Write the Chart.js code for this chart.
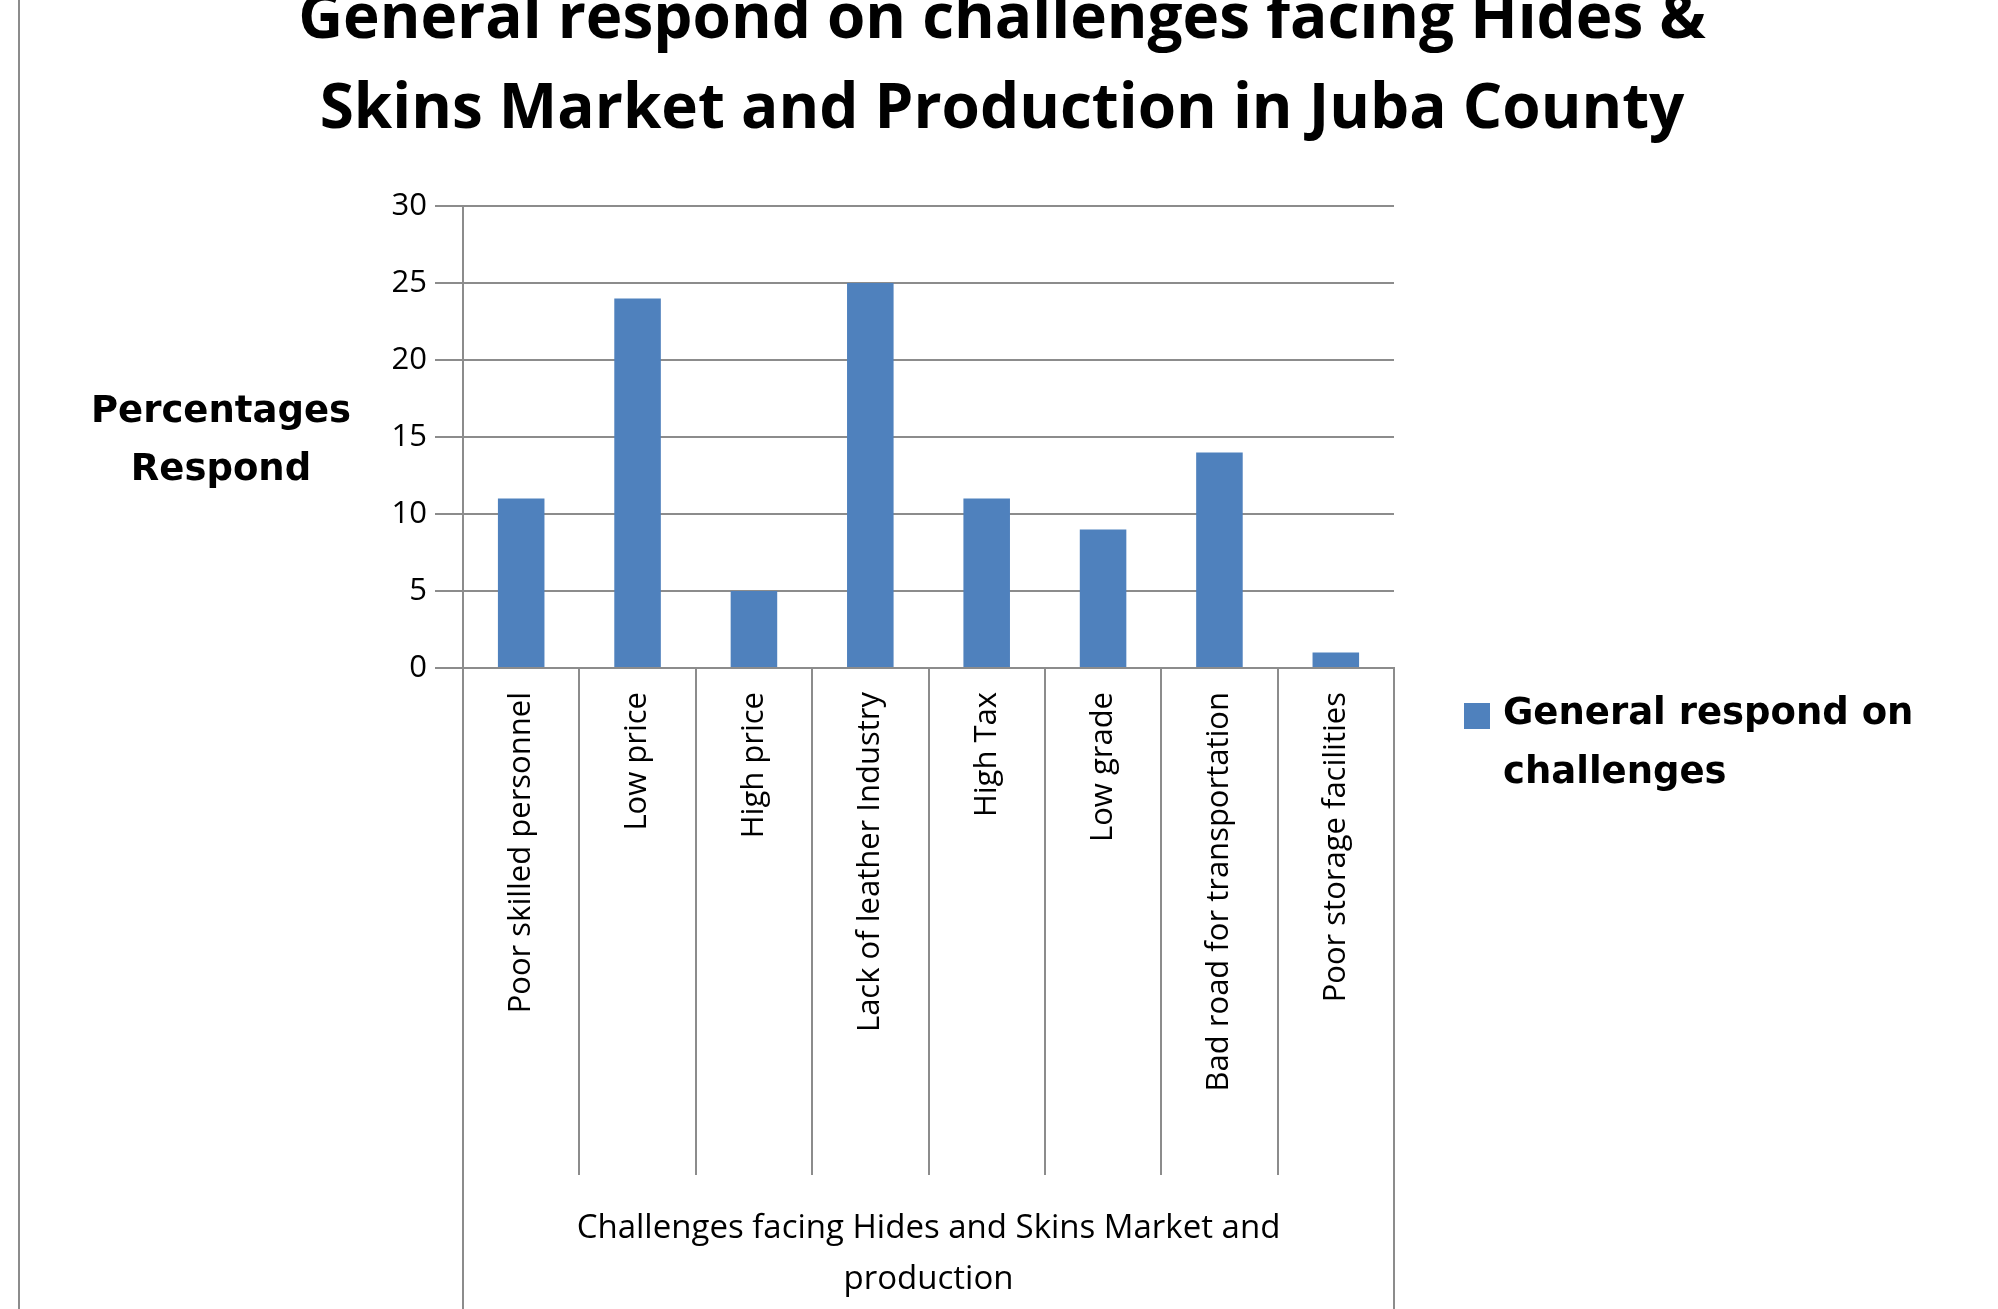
<!DOCTYPE html>
<html><head><meta charset="utf-8">
<script src="https://cdn.jsdelivr.net/npm/chart.js@4/dist/chart.umd.min.js"></script>
<style>html,body{margin:0;background:#fff}#c{display:block}</style>
</head><body>
<div style="width:1998px;height:1309px"><canvas id="c"></canvas></div>
<script>
// data
var categories = ['Poor skilled personnel', 'Low price', 'High price', 'Lack of leather Industry', 'High Tax', 'Low grade', 'Bad road for transportation', 'Poor storage facilities'];
var responses = [11, 24, 5, 25, 11, 9, 14, 1];
var titleLines = ['General respond on challenges facing Hides &', 'Skins Market and Production in Juba County'];
var yTitle = ['Percentages', 'Respond'];
var xTitle = ['Challenges facing Hides and Skins Market and', 'production'];
var seriesName = ['General respond on', 'challenges'];

var barColor = '#4F81BD';
var lineColor = '#8c8c8c';

var extras = {
  id: 'extras',
  afterDraw: function (chart) {
    var c = chart.ctx, x = chart.scales.x, a = chart.chartArea;
    c.save();
    c.strokeStyle = lineColor; c.lineWidth = 2;
    // page border on the left
    c.beginPath(); c.moveTo(19, 0); c.lineTo(19, 1309); c.stroke();
    // category boxes under the axis
    var w = (a.right - a.left) / categories.length;
    c.beginPath();
    for (var i = 0; i <= categories.length; i++) {
      var px = Math.round(a.left + i * w);
      var bottom = (i === 0 || i === categories.length) ? 1309 : 1175;
      c.moveTo(px, a.bottom); c.lineTo(px, bottom);
    }
    c.stroke();
    // titles
    c.fillStyle = '#000'; c.textAlign = 'center'; c.textBaseline = 'middle';
    c.font = 'bold 62px "Open Sans", sans-serif';
    c.fillText(titleLines[0], 1002, 20);
    c.fillText(titleLines[1], 1002, 110);
    c.font = '900 37px "DejaVu Sans", sans-serif';
    c.fillText(yTitle[0], 221, 412);
    c.fillText(yTitle[1], 221, 470);
    c.font = '33px "Open Sans", sans-serif';
    c.fillText(xTitle[0], (a.left + a.right) / 2, 1229);
    c.fillText(xTitle[1], (a.left + a.right) / 2, 1280);
    // legend
    c.fillStyle = chart.data.datasets[0].backgroundColor;
    c.fillRect(1464, 703, 26, 26);
    c.fillStyle = '#000'; c.textAlign = 'left';
    c.font = '900 37px "DejaVu Sans", sans-serif';
    c.fillText(seriesName[0], 1503, 714);
    c.fillText(seriesName[1], 1503, 773);
    c.restore();
  }
};

new Chart(document.getElementById('c'), {
  type: 'bar',
  data: {
    labels: categories,
    datasets: [{ label: seriesName.join(' '), data: responses, backgroundColor: barColor, barPercentage: 0.4, categoryPercentage: 1 }]
  },
  options: {
    responsive: true, maintainAspectRatio: false, animation: false,
    layout: { padding: { top: 206, right: 604, bottom: 0, left: 0 } },
    plugins: { legend: { display: false }, tooltip: { enabled: false } },
    scales: {
      x: {
        afterFit: function (s) { s.height = 641; },
        grid: { display: false },
        border: { color: lineColor, width: 2 },
        ticks: { minRotation: 90, maxRotation: 90, padding: 16, color: '#000', font: { family: 'Open Sans', size: 31 } }
      },
      y: {
        min: 0, max: 30,
        afterFit: function (s) { s.width = 463; },
        ticks: { stepSize: 5, padding: 8, color: '#000', font: { family: 'Open Sans', size: 31 } },
        grid: { color: lineColor, lineWidth: 2, tickLength: 28 },
        border: { color: lineColor, width: 2 }
      }
    }
  },
  plugins: [extras]
});
</script>
</body></html>
